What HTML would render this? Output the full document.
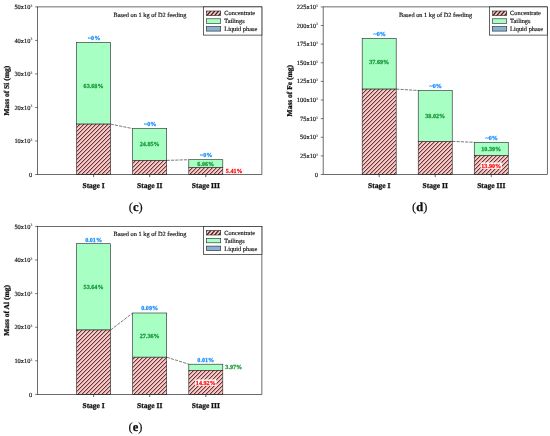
<!DOCTYPE html>
<html lang="en"><head><meta charset="utf-8"><title>Mass distribution charts</title>
<style>html,body{margin:0;padding:0;background:#fff;}body{width:550px;height:436px;overflow:hidden;}svg{display:block;}text{font-family:'Liberation Serif', 'DejaVu Serif', serif;stroke:#111;stroke-width:1.6px;text-rendering:geometricPrecision;}.b{font-weight:bold;stroke-width:2.6px;}</style>
</head><body>
<svg width="550" height="436" viewBox="0 0 550 436" fill="#111">
<defs>
</defs>
<rect width="550" height="436" fill="#fff"/>
<rect x="76.60" y="42.40" width="34.00" height="81.70" fill="#a7ffc4" stroke="#222" stroke-width="0.6"/>
<clipPath id="cp1"><rect x="76.60" y="124.10" width="34.00" height="50.40"/></clipPath>
<rect x="76.60" y="124.10" width="34.00" height="50.40" fill="#ffc6c6"/>
<path clip-path="url(#cp1)" d="M75.60,120.65L111.60,84.65M75.60,124.65L111.60,88.65M75.60,128.65L111.60,92.65M75.60,132.65L111.60,96.65M75.60,136.65L111.60,100.65M75.60,140.65L111.60,104.65M75.60,144.65L111.60,108.65M75.60,148.65L111.60,112.65M75.60,152.65L111.60,116.65M75.60,156.65L111.60,120.65M75.60,160.65L111.60,124.65M75.60,164.65L111.60,128.65M75.60,168.65L111.60,132.65M75.60,172.65L111.60,136.65M75.60,176.65L111.60,140.65M75.60,180.65L111.60,144.65M75.60,184.65L111.60,148.65M75.60,188.65L111.60,152.65M75.60,192.65L111.60,156.65M75.60,196.65L111.60,160.65M75.60,200.65L111.60,164.65M75.60,204.65L111.60,168.65M75.60,208.65L111.60,172.65M75.60,212.65L111.60,176.65" stroke="#2b1212" stroke-width="1.0" fill="none"/>
<rect x="76.60" y="124.10" width="34.00" height="50.40" fill="none" stroke="#222" stroke-width="0.6"/>
<rect x="132.70" y="128.60" width="34.00" height="31.80" fill="#a7ffc4" stroke="#222" stroke-width="0.6"/>
<clipPath id="cp2"><rect x="132.70" y="160.40" width="34.00" height="14.10"/></clipPath>
<rect x="132.70" y="160.40" width="34.00" height="14.10" fill="#ffc6c6"/>
<path clip-path="url(#cp2)" d="M131.70,156.55L167.70,120.55M131.70,160.55L167.70,124.55M131.70,164.55L167.70,128.55M131.70,168.55L167.70,132.55M131.70,172.55L167.70,136.55M131.70,176.55L167.70,140.55M131.70,180.55L167.70,144.55M131.70,184.55L167.70,148.55M131.70,188.55L167.70,152.55M131.70,192.55L167.70,156.55M131.70,196.55L167.70,160.55M131.70,200.55L167.70,164.55M131.70,204.55L167.70,168.55M131.70,208.55L167.70,172.55M131.70,212.55L167.70,176.55" stroke="#2b1212" stroke-width="1.0" fill="none"/>
<rect x="132.70" y="160.40" width="34.00" height="14.10" fill="none" stroke="#222" stroke-width="0.6"/>
<rect x="188.80" y="159.70" width="34.00" height="7.70" fill="#a7ffc4" stroke="#222" stroke-width="0.6"/>
<clipPath id="cp3"><rect x="188.80" y="167.40" width="34.00" height="7.10"/></clipPath>
<rect x="188.80" y="167.40" width="34.00" height="7.10" fill="#ffc6c6"/>
<path clip-path="url(#cp3)" d="M187.80,164.45L223.80,128.45M187.80,168.45L223.80,132.45M187.80,172.45L223.80,136.45M187.80,176.45L223.80,140.45M187.80,180.45L223.80,144.45M187.80,184.45L223.80,148.45M187.80,188.45L223.80,152.45M187.80,192.45L223.80,156.45M187.80,196.45L223.80,160.45M187.80,200.45L223.80,164.45M187.80,204.45L223.80,168.45M187.80,208.45L223.80,172.45M187.80,212.45L223.80,176.45" stroke="#2b1212" stroke-width="1.0" fill="none"/>
<rect x="188.80" y="167.40" width="34.00" height="7.10" fill="none" stroke="#222" stroke-width="0.6"/>
<line x1="110.60" y1="124.10" x2="132.70" y2="128.60" stroke="#222" stroke-width="0.6" stroke-dasharray="3.2 1.1"/>
<line x1="166.70" y1="160.40" x2="188.80" y2="159.70" stroke="#222" stroke-width="0.6" stroke-dasharray="3.2 1.1"/>
<rect x="37.50" y="6.90" width="224.40" height="167.60" fill="none" stroke="#222" stroke-width="0.66"/>
<line x1="35.10" y1="174.50" x2="37.50" y2="174.50" stroke="#222" stroke-width="0.6"/>
<text transform="translate(32.30,176.60) scale(0.1)" font-size="64" text-anchor="end">0</text>
<line x1="35.10" y1="140.98" x2="37.50" y2="140.98" stroke="#222" stroke-width="0.6"/>
<text transform="translate(32.30,143.08) scale(0.1)" font-size="64" text-anchor="end">10x10<tspan font-size="38" dy="-22" style="stroke-width:0.4px">3</tspan></text>
<line x1="35.10" y1="107.46" x2="37.50" y2="107.46" stroke="#222" stroke-width="0.6"/>
<text transform="translate(32.30,109.56) scale(0.1)" font-size="64" text-anchor="end">20x10<tspan font-size="38" dy="-22" style="stroke-width:0.4px">3</tspan></text>
<line x1="35.10" y1="73.94" x2="37.50" y2="73.94" stroke="#222" stroke-width="0.6"/>
<text transform="translate(32.30,76.04) scale(0.1)" font-size="64" text-anchor="end">30x10<tspan font-size="38" dy="-22" style="stroke-width:0.4px">3</tspan></text>
<line x1="35.10" y1="40.42" x2="37.50" y2="40.42" stroke="#222" stroke-width="0.6"/>
<text transform="translate(32.30,42.52) scale(0.1)" font-size="64" text-anchor="end">40x10<tspan font-size="38" dy="-22" style="stroke-width:0.4px">3</tspan></text>
<line x1="35.10" y1="6.90" x2="37.50" y2="6.90" stroke="#222" stroke-width="0.6"/>
<text transform="translate(32.30,9.00) scale(0.1)" font-size="64" text-anchor="end">50x10<tspan font-size="38" dy="-22" style="stroke-width:0.4px">3</tspan></text>
<line x1="93.60" y1="174.50" x2="93.60" y2="177.10" stroke="#222" stroke-width="0.7"/>
<text transform="translate(93.60,187.60) scale(0.1)" font-size="75" text-anchor="middle" class="b">Stage I</text>
<line x1="149.70" y1="174.50" x2="149.70" y2="177.10" stroke="#222" stroke-width="0.7"/>
<text transform="translate(149.70,187.60) scale(0.1)" font-size="75" text-anchor="middle" class="b">Stage II</text>
<line x1="205.80" y1="174.50" x2="205.80" y2="177.10" stroke="#222" stroke-width="0.7"/>
<text transform="translate(205.80,187.60) scale(0.1)" font-size="75" text-anchor="middle" class="b">Stage III</text>
<text transform="translate(9.00,90.70) rotate(-90) scale(0.1)" font-size="75" text-anchor="middle" class="b">Mass of Si (mg)</text>
<text transform="translate(113.40,16.80) scale(0.1)" font-size="63.5">Based on 1 kg of D2 feeding</text>
<rect x="203.50" y="6.90" width="58.40" height="28.20" fill="#fff" stroke="#222" stroke-width="0.7"/>
<clipPath id="cp4"><rect x="206.40" y="11.00" width="14.30" height="4.50"/></clipPath>
<rect x="206.40" y="11.00" width="14.30" height="4.50" fill="#ffc6c6"/>
<path clip-path="url(#cp4)" d="M205.40,8.25L221.70,-10.55M205.40,12.75L221.70,-6.05M205.40,17.25L221.70,-1.55M205.40,21.75L221.70,2.95M205.40,26.25L221.70,7.45M205.40,30.75L221.70,11.95M205.40,35.25L221.70,16.45" stroke="#45201f" stroke-width="1.3" fill="none"/>
<rect x="206.40" y="11.00" width="14.30" height="4.50" fill="none" stroke="#222" stroke-width="0.6"/>
<text transform="translate(224.30,15.40) scale(0.1)" font-size="63.5">Concentrate</text>
<rect x="206.40" y="18.80" width="14.3" height="4.5" fill="#a7ffc4" stroke="#222" stroke-width="0.6"/>
<text transform="translate(224.30,23.20) scale(0.1)" font-size="63.5">Tailings</text>
<rect x="206.40" y="26.60" width="14.3" height="4.5" fill="#86b3d3" stroke="#222" stroke-width="0.6"/>
<text transform="translate(224.30,31.00) scale(0.1)" font-size="63.5">Liquid phase</text>
<text transform="translate(94.10,39.80) scale(0.1)" font-size="61.5" text-anchor="middle" class="b" style="fill:#1e90ff;stroke:#1e90ff">~0%</text>
<text transform="translate(93.60,87.70) scale(0.1)" font-size="61.5" text-anchor="middle" class="b" style="fill:#189a38;stroke:#189a38">63.68%</text>
<text transform="translate(150.20,126.20) scale(0.1)" font-size="61.5" text-anchor="middle" class="b" style="fill:#1e90ff;stroke:#1e90ff">~0%</text>
<text transform="translate(149.70,145.60) scale(0.1)" font-size="61.5" text-anchor="middle" class="b" style="fill:#189a38;stroke:#189a38">24.85%</text>
<text transform="translate(206.30,156.80) scale(0.1)" font-size="61.5" text-anchor="middle" class="b" style="fill:#1e90ff;stroke:#1e90ff">~0%</text>
<text transform="translate(205.80,165.60) scale(0.1)" font-size="61.5" text-anchor="middle" class="b" style="fill:#189a38;stroke:#189a38">6.06%</text>
<text transform="translate(234.30,173.20) scale(0.1)" font-size="61.5" text-anchor="middle" class="b" style="fill:#ff1010;stroke:#ff1010">5.41%</text>
<text transform="translate(135.70,211.00) scale(0.1)" font-size="126" text-anchor="middle">(<tspan font-weight="bold" style="stroke-width:3px">c</tspan>)</text>
<rect x="362.19" y="38.40" width="34.00" height="50.70" fill="#a7ffc4" stroke="#222" stroke-width="0.6"/>
<clipPath id="cp5"><rect x="362.19" y="89.10" width="34.00" height="85.40"/></clipPath>
<rect x="362.19" y="89.10" width="34.00" height="85.40" fill="#ffc6c6"/>
<path clip-path="url(#cp5)" d="M361.19,87.06L397.19,51.06M361.19,91.06L397.19,55.06M361.19,95.06L397.19,59.06M361.19,99.06L397.19,63.06M361.19,103.06L397.19,67.06M361.19,107.06L397.19,71.06M361.19,111.06L397.19,75.06M361.19,115.06L397.19,79.06M361.19,119.06L397.19,83.06M361.19,123.06L397.19,87.06M361.19,127.06L397.19,91.06M361.19,131.06L397.19,95.06M361.19,135.06L397.19,99.06M361.19,139.06L397.19,103.06M361.19,143.06L397.19,107.06M361.19,147.06L397.19,111.06M361.19,151.06L397.19,115.06M361.19,155.06L397.19,119.06M361.19,159.06L397.19,123.06M361.19,163.06L397.19,127.06M361.19,167.06L397.19,131.06M361.19,171.06L397.19,135.06M361.19,175.06L397.19,139.06M361.19,179.06L397.19,143.06M361.19,183.06L397.19,147.06M361.19,187.06L397.19,151.06M361.19,191.06L397.19,155.06M361.19,195.06L397.19,159.06M361.19,199.06L397.19,163.06M361.19,203.06L397.19,167.06M361.19,207.06L397.19,171.06M361.19,211.06L397.19,175.06" stroke="#2b1212" stroke-width="1.0" fill="none"/>
<rect x="362.19" y="89.10" width="34.00" height="85.40" fill="none" stroke="#222" stroke-width="0.6"/>
<rect x="418.22" y="90.50" width="34.00" height="50.90" fill="#a7ffc4" stroke="#222" stroke-width="0.6"/>
<clipPath id="cp6"><rect x="418.22" y="141.40" width="34.00" height="33.10"/></clipPath>
<rect x="418.22" y="141.40" width="34.00" height="33.10" fill="#ffc6c6"/>
<path clip-path="url(#cp6)" d="M417.22,139.03L453.22,103.03M417.22,143.03L453.22,107.03M417.22,147.03L453.22,111.03M417.22,151.03L453.22,115.03M417.22,155.03L453.22,119.03M417.22,159.03L453.22,123.03M417.22,163.03L453.22,127.03M417.22,167.03L453.22,131.03M417.22,171.03L453.22,135.03M417.22,175.03L453.22,139.03M417.22,179.03L453.22,143.03M417.22,183.03L453.22,147.03M417.22,187.03L453.22,151.03M417.22,191.03L453.22,155.03M417.22,195.03L453.22,159.03M417.22,199.03L453.22,163.03M417.22,203.03L453.22,167.03M417.22,207.03L453.22,171.03M417.22,211.03L453.22,175.03" stroke="#2b1212" stroke-width="1.0" fill="none"/>
<rect x="418.22" y="141.40" width="34.00" height="33.10" fill="none" stroke="#222" stroke-width="0.6"/>
<rect x="474.26" y="142.30" width="34.00" height="13.10" fill="#a7ffc4" stroke="#222" stroke-width="0.6"/>
<clipPath id="cp7"><rect x="474.26" y="155.40" width="34.00" height="19.10"/></clipPath>
<rect x="474.26" y="155.40" width="34.00" height="19.10" fill="#ffc6c6"/>
<path clip-path="url(#cp7)" d="M473.26,154.99L509.26,118.99M473.26,158.99L509.26,122.99M473.26,162.99L509.26,126.99M473.26,166.99L509.26,130.99M473.26,170.99L509.26,134.99M473.26,174.99L509.26,138.99M473.26,178.99L509.26,142.99M473.26,182.99L509.26,146.99M473.26,186.99L509.26,150.99M473.26,190.99L509.26,154.99M473.26,194.99L509.26,158.99M473.26,198.99L509.26,162.99M473.26,202.99L509.26,166.99M473.26,206.99L509.26,170.99M473.26,210.99L509.26,174.99" stroke="#2b1212" stroke-width="1.0" fill="none"/>
<rect x="474.26" y="155.40" width="34.00" height="19.10" fill="none" stroke="#222" stroke-width="0.6"/>
<line x1="396.19" y1="89.10" x2="418.22" y2="90.50" stroke="#222" stroke-width="0.6" stroke-dasharray="3.2 1.1"/>
<line x1="452.22" y1="141.40" x2="474.26" y2="142.30" stroke="#222" stroke-width="0.6" stroke-dasharray="3.2 1.1"/>
<rect x="323.15" y="6.90" width="224.15" height="167.60" fill="none" stroke="#222" stroke-width="0.66"/>
<line x1="320.75" y1="174.50" x2="323.15" y2="174.50" stroke="#222" stroke-width="0.6"/>
<text transform="translate(317.95,176.60) scale(0.1)" font-size="64" text-anchor="end">0</text>
<line x1="320.75" y1="155.88" x2="323.15" y2="155.88" stroke="#222" stroke-width="0.6"/>
<text transform="translate(317.95,157.98) scale(0.1)" font-size="64" text-anchor="end">25x10<tspan font-size="38" dy="-22" style="stroke-width:0.4px">3</tspan></text>
<line x1="320.75" y1="137.26" x2="323.15" y2="137.26" stroke="#222" stroke-width="0.6"/>
<text transform="translate(317.95,139.36) scale(0.1)" font-size="64" text-anchor="end">50x10<tspan font-size="38" dy="-22" style="stroke-width:0.4px">3</tspan></text>
<line x1="320.75" y1="118.63" x2="323.15" y2="118.63" stroke="#222" stroke-width="0.6"/>
<text transform="translate(317.95,120.73) scale(0.1)" font-size="64" text-anchor="end">75x10<tspan font-size="38" dy="-22" style="stroke-width:0.4px">3</tspan></text>
<line x1="320.75" y1="100.01" x2="323.15" y2="100.01" stroke="#222" stroke-width="0.6"/>
<text transform="translate(317.95,102.11) scale(0.1)" font-size="64" text-anchor="end">100x10<tspan font-size="38" dy="-22" style="stroke-width:0.4px">3</tspan></text>
<line x1="320.75" y1="81.39" x2="323.15" y2="81.39" stroke="#222" stroke-width="0.6"/>
<text transform="translate(317.95,83.49) scale(0.1)" font-size="64" text-anchor="end">125x10<tspan font-size="38" dy="-22" style="stroke-width:0.4px">3</tspan></text>
<line x1="320.75" y1="62.77" x2="323.15" y2="62.77" stroke="#222" stroke-width="0.6"/>
<text transform="translate(317.95,64.87) scale(0.1)" font-size="64" text-anchor="end">150x10<tspan font-size="38" dy="-22" style="stroke-width:0.4px">3</tspan></text>
<line x1="320.75" y1="44.14" x2="323.15" y2="44.14" stroke="#222" stroke-width="0.6"/>
<text transform="translate(317.95,46.24) scale(0.1)" font-size="64" text-anchor="end">175x10<tspan font-size="38" dy="-22" style="stroke-width:0.4px">3</tspan></text>
<line x1="320.75" y1="25.52" x2="323.15" y2="25.52" stroke="#222" stroke-width="0.6"/>
<text transform="translate(317.95,27.62) scale(0.1)" font-size="64" text-anchor="end">200x10<tspan font-size="38" dy="-22" style="stroke-width:0.4px">3</tspan></text>
<line x1="320.75" y1="6.90" x2="323.15" y2="6.90" stroke="#222" stroke-width="0.6"/>
<text transform="translate(317.95,9.00) scale(0.1)" font-size="64" text-anchor="end">225x10<tspan font-size="38" dy="-22" style="stroke-width:0.4px">3</tspan></text>
<line x1="379.19" y1="174.50" x2="379.19" y2="177.10" stroke="#222" stroke-width="0.7"/>
<text transform="translate(379.19,187.60) scale(0.1)" font-size="75" text-anchor="middle" class="b">Stage I</text>
<line x1="435.22" y1="174.50" x2="435.22" y2="177.10" stroke="#222" stroke-width="0.7"/>
<text transform="translate(435.22,187.60) scale(0.1)" font-size="75" text-anchor="middle" class="b">Stage II</text>
<line x1="491.26" y1="174.50" x2="491.26" y2="177.10" stroke="#222" stroke-width="0.7"/>
<text transform="translate(491.26,187.60) scale(0.1)" font-size="75" text-anchor="middle" class="b">Stage III</text>
<text transform="translate(291.85,90.70) rotate(-90) scale(0.1)" font-size="75" text-anchor="middle" class="b">Mass of Fe (mg)</text>
<text transform="translate(399.05,16.80) scale(0.1)" font-size="63.5">Based on 1 kg of D2 feeding</text>
<rect x="489.55" y="6.90" width="57.75" height="28.20" fill="#fff" stroke="#222" stroke-width="0.7"/>
<clipPath id="cp8"><rect x="492.45" y="11.00" width="14.30" height="4.50"/></clipPath>
<rect x="492.45" y="11.00" width="14.30" height="4.50" fill="#ffc6c6"/>
<path clip-path="url(#cp8)" d="M491.45,8.25L507.75,-10.55M491.45,12.75L507.75,-6.05M491.45,17.25L507.75,-1.55M491.45,21.75L507.75,2.95M491.45,26.25L507.75,7.45M491.45,30.75L507.75,11.95M491.45,35.25L507.75,16.45" stroke="#45201f" stroke-width="1.3" fill="none"/>
<rect x="492.45" y="11.00" width="14.30" height="4.50" fill="none" stroke="#222" stroke-width="0.6"/>
<text transform="translate(510.11,15.40) scale(0.1)" font-size="63.5">Concentrate</text>
<rect x="492.45" y="18.80" width="14.3" height="4.5" fill="#a7ffc4" stroke="#222" stroke-width="0.6"/>
<text transform="translate(510.11,23.20) scale(0.1)" font-size="63.5">Tailings</text>
<rect x="492.45" y="26.60" width="14.3" height="4.5" fill="#86b3d3" stroke="#222" stroke-width="0.6"/>
<text transform="translate(510.11,31.00) scale(0.1)" font-size="63.5">Liquid phase</text>
<text transform="translate(379.69,36.00) scale(0.1)" font-size="61.5" text-anchor="middle" class="b" style="fill:#1e90ff;stroke:#1e90ff">~0%</text>
<text transform="translate(379.19,64.00) scale(0.1)" font-size="61.5" text-anchor="middle" class="b" style="fill:#189a38;stroke:#189a38">37.69%</text>
<text transform="translate(435.72,88.30) scale(0.1)" font-size="61.5" text-anchor="middle" class="b" style="fill:#1e90ff;stroke:#1e90ff">~0%</text>
<text transform="translate(435.22,117.50) scale(0.1)" font-size="61.5" text-anchor="middle" class="b" style="fill:#189a38;stroke:#189a38">38.02%</text>
<text transform="translate(491.76,140.30) scale(0.1)" font-size="61.5" text-anchor="middle" class="b" style="fill:#1e90ff;stroke:#1e90ff">~0%</text>
<text transform="translate(491.26,151.10) scale(0.1)" font-size="61.5" text-anchor="middle" class="b" style="fill:#189a38;stroke:#189a38">10.39%</text>
<rect x="480.66" y="162.50" width="21.20" height="6.4" fill="#fff"/>
<text transform="translate(491.26,167.60) scale(0.1)" font-size="61.5" text-anchor="middle" class="b" style="fill:#ff1010;stroke:#ff1010">13.90%</text>
<text transform="translate(419.80,211.00) scale(0.1)" font-size="126" text-anchor="middle">(<tspan font-weight="bold" style="stroke-width:3px">d</tspan>)</text>
<rect x="76.60" y="243.70" width="34.00" height="86.30" fill="#a7ffc4" stroke="#222" stroke-width="0.6"/>
<clipPath id="cp9"><rect x="76.60" y="330.00" width="34.00" height="64.40"/></clipPath>
<rect x="76.60" y="330.00" width="34.00" height="64.40" fill="#ffc6c6"/>
<path clip-path="url(#cp9)" d="M75.60,328.65L111.60,292.65M75.60,332.65L111.60,296.65M75.60,336.65L111.60,300.65M75.60,340.65L111.60,304.65M75.60,344.65L111.60,308.65M75.60,348.65L111.60,312.65M75.60,352.65L111.60,316.65M75.60,356.65L111.60,320.65M75.60,360.65L111.60,324.65M75.60,364.65L111.60,328.65M75.60,368.65L111.60,332.65M75.60,372.65L111.60,336.65M75.60,376.65L111.60,340.65M75.60,380.65L111.60,344.65M75.60,384.65L111.60,348.65M75.60,388.65L111.60,352.65M75.60,392.65L111.60,356.65M75.60,396.65L111.60,360.65M75.60,400.65L111.60,364.65M75.60,404.65L111.60,368.65M75.60,408.65L111.60,372.65M75.60,412.65L111.60,376.65M75.60,416.65L111.60,380.65M75.60,420.65L111.60,384.65M75.60,424.65L111.60,388.65M75.60,428.65L111.60,392.65M75.60,432.65L111.60,396.65" stroke="#2b1212" stroke-width="1.0" fill="none"/>
<rect x="76.60" y="330.00" width="34.00" height="64.40" fill="none" stroke="#222" stroke-width="0.6"/>
<rect x="132.70" y="313.00" width="34.00" height="44.20" fill="#a7ffc4" stroke="#222" stroke-width="0.6"/>
<clipPath id="cp10"><rect x="132.70" y="357.20" width="34.00" height="37.20"/></clipPath>
<rect x="132.70" y="357.20" width="34.00" height="37.20" fill="#ffc6c6"/>
<path clip-path="url(#cp10)" d="M131.70,356.55L167.70,320.55M131.70,360.55L167.70,324.55M131.70,364.55L167.70,328.55M131.70,368.55L167.70,332.55M131.70,372.55L167.70,336.55M131.70,376.55L167.70,340.55M131.70,380.55L167.70,344.55M131.70,384.55L167.70,348.55M131.70,388.55L167.70,352.55M131.70,392.55L167.70,356.55M131.70,396.55L167.70,360.55M131.70,400.55L167.70,364.55M131.70,404.55L167.70,368.55M131.70,408.55L167.70,372.55M131.70,412.55L167.70,376.55M131.70,416.55L167.70,380.55M131.70,420.55L167.70,384.55M131.70,424.55L167.70,388.55M131.70,428.55L167.70,392.55M131.70,432.55L167.70,396.55" stroke="#2b1212" stroke-width="1.0" fill="none"/>
<rect x="132.70" y="357.20" width="34.00" height="37.20" fill="none" stroke="#222" stroke-width="0.6"/>
<rect x="188.80" y="364.20" width="34.00" height="6.10" fill="#a7ffc4" stroke="#222" stroke-width="0.6"/>
<clipPath id="cp11"><rect x="188.80" y="370.30" width="34.00" height="24.10"/></clipPath>
<rect x="188.80" y="370.30" width="34.00" height="24.10" fill="#ffc6c6"/>
<path clip-path="url(#cp11)" d="M187.80,368.45L223.80,332.45M187.80,372.45L223.80,336.45M187.80,376.45L223.80,340.45M187.80,380.45L223.80,344.45M187.80,384.45L223.80,348.45M187.80,388.45L223.80,352.45M187.80,392.45L223.80,356.45M187.80,396.45L223.80,360.45M187.80,400.45L223.80,364.45M187.80,404.45L223.80,368.45M187.80,408.45L223.80,372.45M187.80,412.45L223.80,376.45M187.80,416.45L223.80,380.45M187.80,420.45L223.80,384.45M187.80,424.45L223.80,388.45M187.80,428.45L223.80,392.45M187.80,432.45L223.80,396.45" stroke="#2b1212" stroke-width="1.0" fill="none"/>
<rect x="188.80" y="370.30" width="34.00" height="24.10" fill="none" stroke="#222" stroke-width="0.6"/>
<line x1="110.60" y1="330.00" x2="132.70" y2="313.00" stroke="#222" stroke-width="0.6" stroke-dasharray="3.2 1.1"/>
<line x1="166.70" y1="357.20" x2="188.80" y2="364.20" stroke="#222" stroke-width="0.6" stroke-dasharray="3.2 1.1"/>
<rect x="37.50" y="226.40" width="224.40" height="168.00" fill="none" stroke="#222" stroke-width="0.66"/>
<line x1="35.10" y1="394.40" x2="37.50" y2="394.40" stroke="#222" stroke-width="0.6"/>
<text transform="translate(32.30,396.50) scale(0.1)" font-size="64" text-anchor="end">0</text>
<line x1="35.10" y1="360.80" x2="37.50" y2="360.80" stroke="#222" stroke-width="0.6"/>
<text transform="translate(32.30,362.90) scale(0.1)" font-size="64" text-anchor="end">10x10<tspan font-size="38" dy="-22" style="stroke-width:0.4px">3</tspan></text>
<line x1="35.10" y1="327.20" x2="37.50" y2="327.20" stroke="#222" stroke-width="0.6"/>
<text transform="translate(32.30,329.30) scale(0.1)" font-size="64" text-anchor="end">20x10<tspan font-size="38" dy="-22" style="stroke-width:0.4px">3</tspan></text>
<line x1="35.10" y1="293.60" x2="37.50" y2="293.60" stroke="#222" stroke-width="0.6"/>
<text transform="translate(32.30,295.70) scale(0.1)" font-size="64" text-anchor="end">30x10<tspan font-size="38" dy="-22" style="stroke-width:0.4px">3</tspan></text>
<line x1="35.10" y1="260.00" x2="37.50" y2="260.00" stroke="#222" stroke-width="0.6"/>
<text transform="translate(32.30,262.10) scale(0.1)" font-size="64" text-anchor="end">40x10<tspan font-size="38" dy="-22" style="stroke-width:0.4px">3</tspan></text>
<line x1="35.10" y1="226.40" x2="37.50" y2="226.40" stroke="#222" stroke-width="0.6"/>
<text transform="translate(32.30,228.50) scale(0.1)" font-size="64" text-anchor="end">50x10<tspan font-size="38" dy="-22" style="stroke-width:0.4px">3</tspan></text>
<line x1="93.60" y1="394.40" x2="93.60" y2="397.00" stroke="#222" stroke-width="0.7"/>
<text transform="translate(93.60,407.50) scale(0.1)" font-size="75" text-anchor="middle" class="b">Stage I</text>
<line x1="149.70" y1="394.40" x2="149.70" y2="397.00" stroke="#222" stroke-width="0.7"/>
<text transform="translate(149.70,407.50) scale(0.1)" font-size="75" text-anchor="middle" class="b">Stage II</text>
<line x1="205.80" y1="394.40" x2="205.80" y2="397.00" stroke="#222" stroke-width="0.7"/>
<text transform="translate(205.80,407.50) scale(0.1)" font-size="75" text-anchor="middle" class="b">Stage III</text>
<text transform="translate(9.00,310.40) rotate(-90) scale(0.1)" font-size="75" text-anchor="middle" class="b">Mass of Al (mg)</text>
<text transform="translate(113.40,236.30) scale(0.1)" font-size="63.5">Based on 1 kg of D2 feeding</text>
<rect x="203.50" y="226.40" width="58.40" height="28.20" fill="#fff" stroke="#222" stroke-width="0.7"/>
<clipPath id="cp12"><rect x="206.40" y="230.50" width="14.30" height="4.50"/></clipPath>
<rect x="206.40" y="230.50" width="14.30" height="4.50" fill="#ffc6c6"/>
<path clip-path="url(#cp12)" d="M205.40,227.75L221.70,208.95M205.40,232.25L221.70,213.45M205.40,236.75L221.70,217.95M205.40,241.25L221.70,222.45M205.40,245.75L221.70,226.95M205.40,250.25L221.70,231.45M205.40,254.75L221.70,235.95" stroke="#45201f" stroke-width="1.3" fill="none"/>
<rect x="206.40" y="230.50" width="14.30" height="4.50" fill="none" stroke="#222" stroke-width="0.6"/>
<text transform="translate(224.30,234.90) scale(0.1)" font-size="63.5">Concentrate</text>
<rect x="206.40" y="238.30" width="14.3" height="4.5" fill="#a7ffc4" stroke="#222" stroke-width="0.6"/>
<text transform="translate(224.30,242.70) scale(0.1)" font-size="63.5">Tailings</text>
<rect x="206.40" y="246.10" width="14.3" height="4.5" fill="#86b3d3" stroke="#222" stroke-width="0.6"/>
<text transform="translate(224.30,250.50) scale(0.1)" font-size="63.5">Liquid phase</text>
<text transform="translate(93.60,241.90) scale(0.1)" font-size="61.5" text-anchor="middle" class="b" style="fill:#1e90ff;stroke:#1e90ff">0.01%</text>
<text transform="translate(93.60,288.80) scale(0.1)" font-size="61.5" text-anchor="middle" class="b" style="fill:#189a38;stroke:#189a38">53.64%</text>
<text transform="translate(149.70,310.40) scale(0.1)" font-size="61.5" text-anchor="middle" class="b" style="fill:#1e90ff;stroke:#1e90ff">0.09%</text>
<text transform="translate(149.70,337.80) scale(0.1)" font-size="61.5" text-anchor="middle" class="b" style="fill:#189a38;stroke:#189a38">27.36%</text>
<text transform="translate(205.80,361.90) scale(0.1)" font-size="61.5" text-anchor="middle" class="b" style="fill:#1e90ff;stroke:#1e90ff">0.01%</text>
<text transform="translate(233.80,369.10) scale(0.1)" font-size="61.5" text-anchor="middle" class="b" style="fill:#189a38;stroke:#189a38">3.97%</text>
<rect x="195.20" y="379.50" width="21.20" height="6.4" fill="#fff"/>
<text transform="translate(205.80,384.60) scale(0.1)" font-size="61.5" text-anchor="middle" class="b" style="fill:#ff1010;stroke:#ff1010">14.92%</text>
<text transform="translate(135.50,430.60) scale(0.1)" font-size="126" text-anchor="middle">(<tspan font-weight="bold" style="stroke-width:3px">e</tspan>)</text>
</svg>
</body></html>
